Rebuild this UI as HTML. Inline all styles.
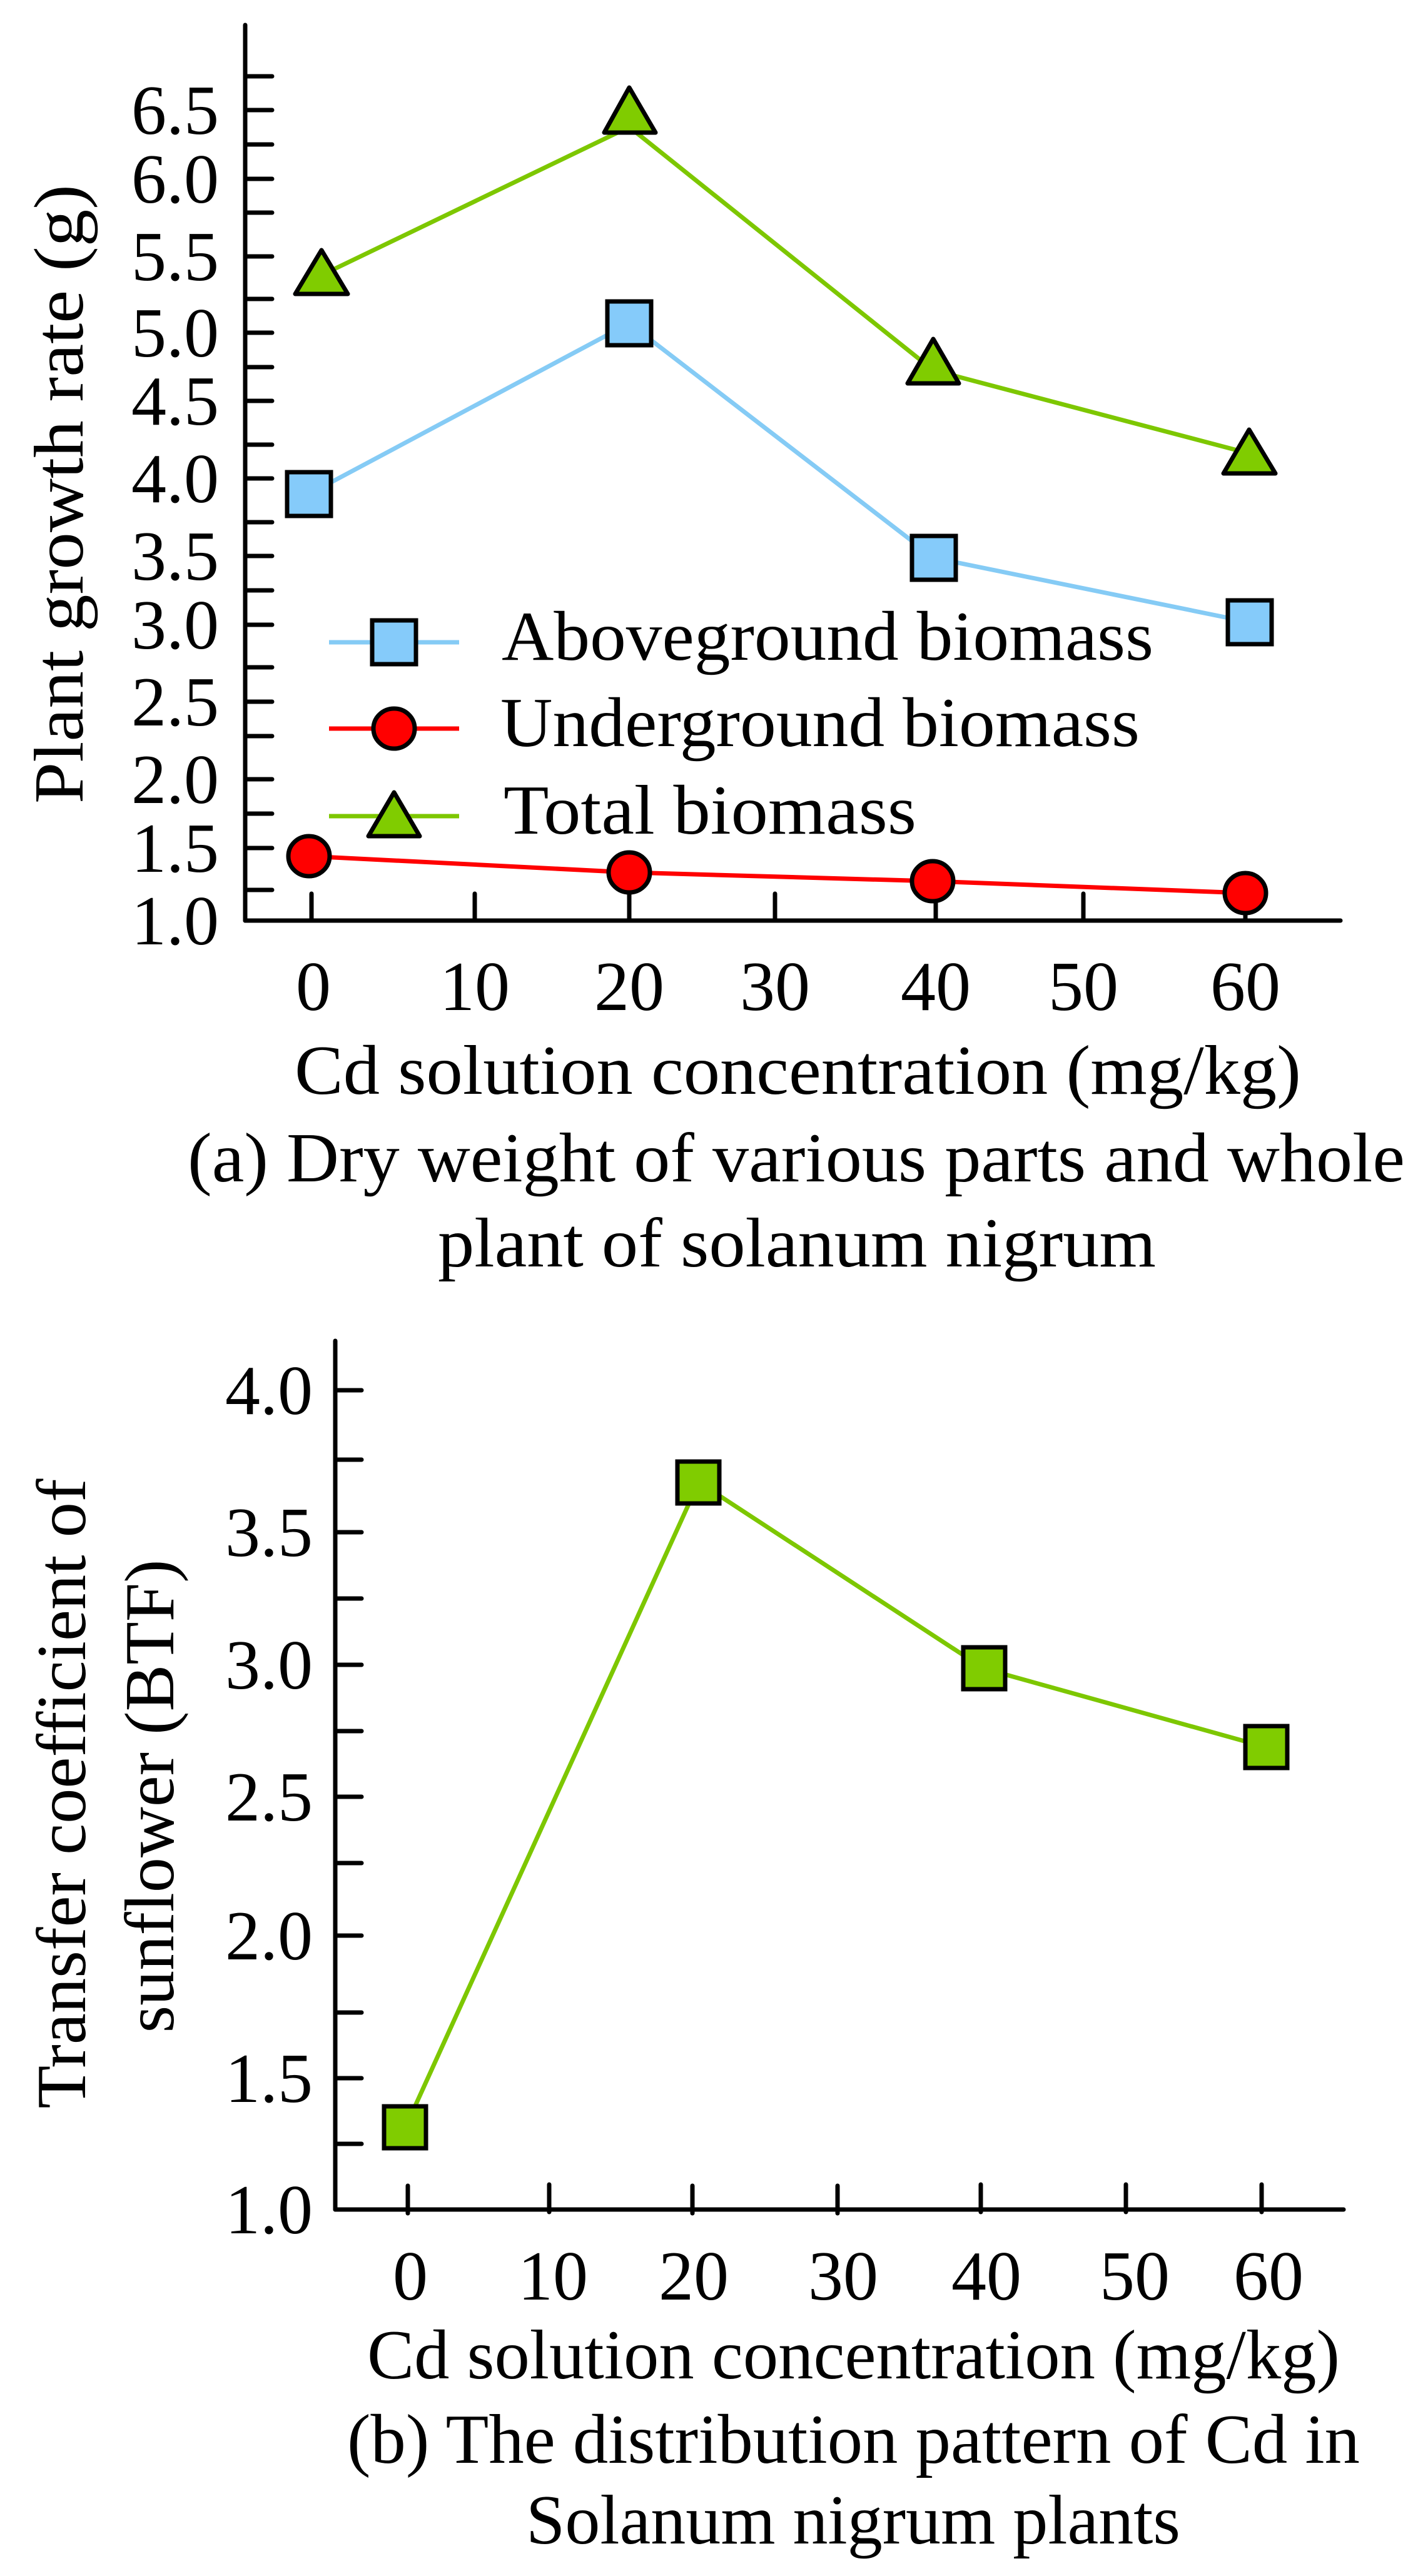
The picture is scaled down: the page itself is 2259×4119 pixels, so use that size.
<!DOCTYPE html>
<html><head><meta charset="utf-8"><style>
html,body{margin:0;padding:0;background:#fff;}
svg{display:block;}
text{font-family:"Liberation Serif","Times New Roman",serif;fill:#000;}
</style></head><body>
<svg width="2259" height="4119" viewBox="0 0 2259 4119" xmlns="http://www.w3.org/2000/svg">
<rect width="2259" height="4119" fill="#fff"/>

<!-- ===== Chart A ===== -->
<g stroke="#000" stroke-width="7" stroke-linecap="round" fill="none">
  <line x1="392" y1="40" x2="392" y2="1472"/>
  <line x1="392" y1="1472" x2="2143" y2="1472"/>
  <!-- y ticks -->
  <path d="M392 122h43M392 176h43M392 231h43M392 286h43M392 340h43M392 410h43M392 478h43M392 532h43M392 587h43M392 641h43M392 711h43M392 765h43M392 835h43M392 889h43M392 944h43M392 999h43M392 1067h43M392 1122h43M392 1177h43M392 1246h43M392 1301h43M392 1356h43M392 1423h43"/>
  <!-- x ticks -->
  <path d="M498 1472v-43M759 1472v-43M1006 1472v-43M1239 1472v-43M1496 1472v-43M1732 1472v-43M1991 1472v-43"/>
</g>
<g font-size="112" text-anchor="end">
  <text x="350" y="214">6.5</text>
  <text x="350" y="324">6.0</text>
  <text x="350" y="448">5.5</text>
  <text x="350" y="570">5.0</text>
  <text x="350" y="679">4.5</text>
  <text x="350" y="803">4.0</text>
  <text x="350" y="927">3.5</text>
  <text x="350" y="1037">3.0</text>
  <text x="350" y="1160">2.5</text>
  <text x="350" y="1284">2.0</text>
  <text x="350" y="1394">1.5</text>
  <text x="350" y="1510">1.0</text>
</g>
<g font-size="112" text-anchor="middle">
  <text x="501" y="1615">0</text>
  <text x="759" y="1615">10</text>
  <text x="1006" y="1615">20</text>
  <text x="1239" y="1615">30</text>
  <text x="1496" y="1615">40</text>
  <text x="1732" y="1615">50</text>
  <text x="1991" y="1615">60</text>
</g>
<text font-size="112" x="471" y="1749" textLength="1609" lengthAdjust="spacingAndGlyphs">Cd solution concentration (mg/kg)</text>
<text font-size="112" x="300" y="1889" textLength="1946" lengthAdjust="spacingAndGlyphs">(a) Dry weight of various parts and whole</text>
<text font-size="112" x="700" y="2025" textLength="1148" lengthAdjust="spacingAndGlyphs">plant of solanum nigrum</text>
<text font-size="112" transform="translate(132,790) rotate(-90)" text-anchor="middle" textLength="990" lengthAdjust="spacingAndGlyphs">Plant growth rate (g)</text>

<!-- series lines -->
<polyline points="514,440 1006,203 1492,592 1997,725" fill="none" stroke="#7dc700" stroke-width="7"/>
<polyline points="494,790 1006,517 1493,892 1998,995" fill="none" stroke="#85cbf5" stroke-width="7"/>
<polyline points="494,1369 1006,1395 1491,1409 1991,1428" fill="none" stroke="#ff0000" stroke-width="7"/>

<!-- markers -->
<g fill="#80cc00" stroke="#000" stroke-width="7" stroke-linejoin="round">
  <polygon points="514,400 472,470 556,470"/>
  <polygon points="1006,140 966,212 1048,212"/>
  <polygon points="1492,542 1451,613 1533,613"/>
  <polygon points="1997,687 1956,757 2039,757"/>
</g>
<g fill="#85cbfa" stroke="#000" stroke-width="7">
  <rect x="459" y="755" width="70" height="70"/>
  <rect x="971" y="482" width="70" height="70"/>
  <rect x="1458" y="857" width="70" height="70"/>
  <rect x="1963" y="960" width="70" height="70"/>
</g>
<g fill="#ff0000" stroke="#000" stroke-width="7">
  <ellipse cx="494" cy="1369" rx="33" ry="32"/>
  <ellipse cx="1006" cy="1395" rx="33" ry="32"/>
  <ellipse cx="1491" cy="1409" rx="33" ry="32"/>
  <ellipse cx="1991" cy="1428" rx="33" ry="32"/>
</g>

<!-- legend -->
<line x1="526" y1="1027" x2="734" y2="1027" stroke="#85cbf5" stroke-width="7"/>
<line x1="526" y1="1165" x2="734" y2="1165" stroke="#ff0000" stroke-width="7"/>
<line x1="526" y1="1305" x2="734" y2="1305" stroke="#7dc700" stroke-width="7"/>
<rect x="595" y="992" width="70" height="70" fill="#85cbfa" stroke="#000" stroke-width="7"/>
<ellipse cx="630" cy="1165" rx="33" ry="32" fill="#ff0000" stroke="#000" stroke-width="7"/>
<polygon points="630,1267 589,1337 671,1337" fill="#80cc00" stroke="#000" stroke-width="7" stroke-linejoin="round"/>
<g font-size="112">
  <text x="802" y="1055" textLength="1042" lengthAdjust="spacingAndGlyphs">Aboveground biomass</text>
  <text x="800" y="1193" textLength="1022" lengthAdjust="spacingAndGlyphs">Underground biomass</text>
  <text x="805" y="1333" textLength="660" lengthAdjust="spacingAndGlyphs">Total biomass</text>
</g>

<!-- ===== Chart B ===== -->
<g stroke="#000" stroke-width="7" stroke-linecap="round" fill="none">
  <line x1="536" y1="2144" x2="536" y2="3533"/>
  <line x1="536" y1="3533" x2="2148" y2="3533"/>
  <path d="M536 2223h42M536 2334h42M536 2450h42M536 2556h42M536 2662h42M536 2768h42M536 2873h42M536 2979h42M536 3095h42M536 3218h42M536 3323h42M536 3428h42"/>
  <path d="M652 3495v44M878 3493v44M1107 3495v44M1339 3495v44M1568 3493v44M1800 3493v44M2017 3493v44"/>
</g>
<g font-size="112" text-anchor="end">
  <text x="500" y="2261">4.0</text>
  <text x="500" y="2488">3.5</text>
  <text x="500" y="2700">3.0</text>
  <text x="500" y="2911">2.5</text>
  <text x="500" y="3133">2.0</text>
  <text x="500" y="3361">1.5</text>
  <text x="500" y="3571">1.0</text>
</g>
<g font-size="112" text-anchor="middle">
  <text x="656" y="3677">0</text>
  <text x="884" y="3677">10</text>
  <text x="1109" y="3677">20</text>
  <text x="1348" y="3677">30</text>
  <text x="1577" y="3677">40</text>
  <text x="1814" y="3677">50</text>
  <text x="2028" y="3677">60</text>
</g>
<text font-size="112" x="587" y="3803" textLength="1555" lengthAdjust="spacingAndGlyphs">Cd solution concentration (mg/kg)</text>
<text font-size="112" x="555" y="3938" textLength="1619" lengthAdjust="spacingAndGlyphs">(b) The distribution pattern of Cd in</text>
<text font-size="112" x="841" y="4067" textLength="1046" lengthAdjust="spacingAndGlyphs">Solanum nigrum plants</text>
<text font-size="112" transform="translate(136,2868) rotate(-90)" text-anchor="middle" textLength="1007" lengthAdjust="spacingAndGlyphs">Transfer coefficient of</text>
<text font-size="112" transform="translate(277,2872) rotate(-90)" text-anchor="middle" textLength="757" lengthAdjust="spacingAndGlyphs">sunflower (BTF)</text>

<polyline points="648,3402 1117,2370 1573,2668 2025,2794" fill="none" stroke="#7dc700" stroke-width="7"/>
<g fill="#80cc00" stroke="#000" stroke-width="7">
  <rect x="614" y="3368" width="67" height="67"/>
  <rect x="1083" y="2337" width="67" height="67"/>
  <rect x="1540" y="2634" width="67" height="67"/>
  <rect x="1991" y="2760" width="67" height="67"/>
</g>
</svg>
</body></html>
